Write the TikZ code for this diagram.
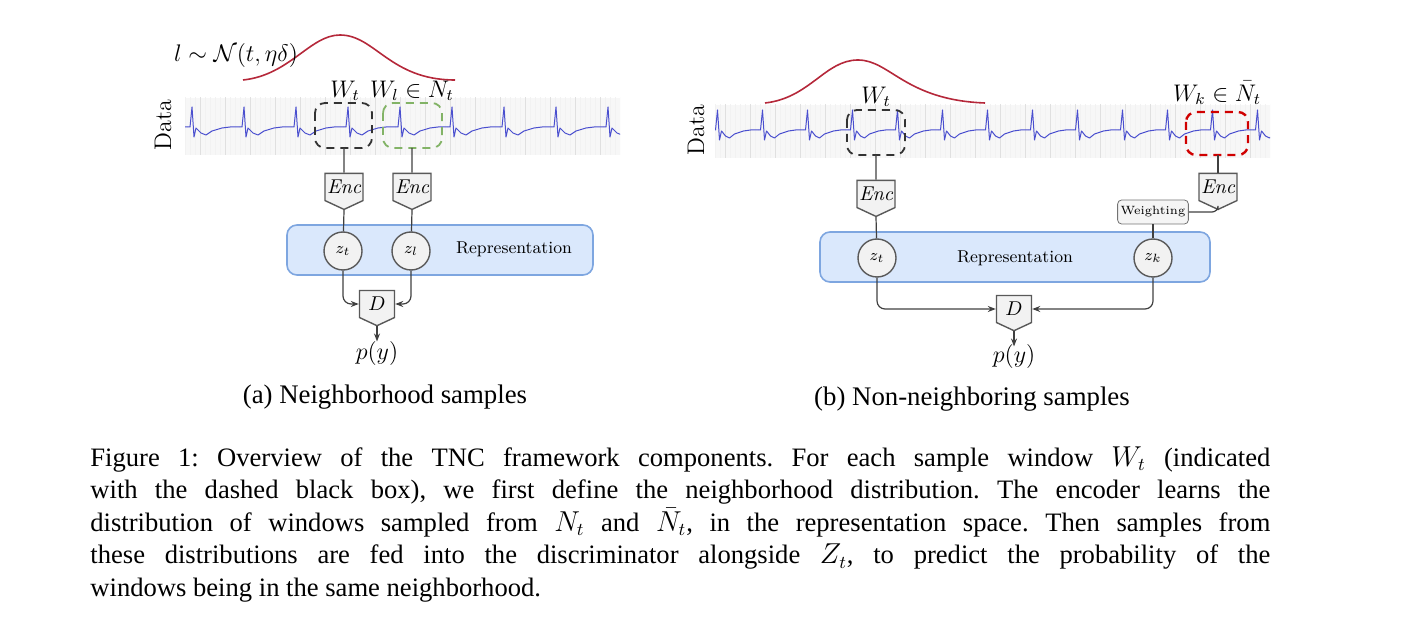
\documentclass[tikz,border=0pt]{standalone}
\usepackage{fontspec}
\usepackage{amsmath,amssymb}
\setmainfont{Liberation Serif}
\newfontfamily\lmf{Latin Modern Roman}
\usetikzlibrary{shapes.symbols,arrows.meta}
\definecolor{repfill}{HTML}{DAE8FC}
\definecolor{repdraw}{HTML}{7EA6E0}
\definecolor{ecgc}{HTML}{4A4FCF}
\definecolor{gauss}{HTML}{B5283A}
\definecolor{gbox}{HTML}{82B366}
\definecolor{rbox}{HTML}{D00000}
\begin{document}
\begin{tikzpicture}[x=0.5pt,y=-0.5pt,
  every node/.style={font=\lmf},
  enc/.style={shape=signal,signal to=south,signal pointer angle=130,draw=black!65,fill=black!5,line width=0.7pt,minimum width=17.5pt,minimum height=18pt,inner sep=1pt,font=\lmf\itshape},
  zn/.style={circle,draw=black!65,fill=black!5,line width=0.7pt,minimum size=19pt,inner sep=0pt,font=\lmf\footnotesize},
  rep/.style={draw=repdraw,fill=repfill,rounded corners=5pt,line width=0.8pt},
  reptext/.style={font=\lmf\fontsize{8.6}{10}\selectfont},
  wbox/.style={rounded corners=5pt,line width=0.9pt,dash pattern=on 4pt off 3pt},
  con/.style={draw=black!75,line width=0.6pt},
  arr/.style={con,-{Stealth[length=4pt]},rounded corners=4pt},
  ecg/.style={ecgc,line width=0.5pt,line join=round},
  gcurve/.style={gauss,line width=0.8pt}]
\useasboundingbox (0,0) rectangle (1417,641);
% ---------- panel (a) ----------
\begin{scope}
\clip (185,98) rectangle (620,155);
\fill[black!3] (185,98) rectangle (620,155);
\draw[black!5,line width=0.15pt,step=5] (180,95) grid (625,160);
\draw[black!12,line width=0.3pt,step=25] (175,75) grid (625,175);
\foreach \s in {135,187,239,291,343,395,447,499,551,603}
  \draw[ecg] (\s,127) -- ++(3,0) -- ++(2,-20) -- ++(2,30) -- ++(2,-9) -- ++(5,5) -- ++(5,2) -- ++(6,-4) -- ++(10,-3) -- ++(8,-1) -- ++(9,0);
\end{scope}
\node[rotate=90,font=\large\lmf] (da) at (163,125) {Data};
\draw[gcurve] (243,80) .. controls (290,75) and (310,35) .. (340,35) .. controls (375,35) and (390,80) .. (455,80);
\node[font=\large\lmf] (la) at (236,56) {$l\sim\mathcal{N}(t,\eta\delta)$};
\node[font=\large\lmf] (wt) at (345,91) {$W_t$};
\node[font=\large\lmf] (wl) at (412,91) {$W_l\in N_t$};
\draw[wbox,draw=black!80] (315,103) rectangle (372,148);
\draw[wbox,draw=gbox] (383,103) rectangle (442,148);
\coordinate (ba) at (344,148);
\coordinate (bb) at (412,148);
\node[enc] (e1) at (344,187) {Enc};
\node[enc] (e2) at (412,187) {Enc};
\draw[rep] (287,225) rectangle (593,275);
\node[zn] (zt) at (343,251) {$z_t$};
\node[zn] (zl) at (411,251) {$z_l$};
\node[reptext] (ra) at (514,249) {Representation};
\node[enc,font=\lmf\itshape,minimum height=16pt] (d1) at (377,304) {$D$};
\node[font=\large\lmf] (p1) at (377,353) {$p(y)$};
\draw[con] (ba) -- (e1); \draw[con] (bb) -- (e2);
\draw[con] (e1.south) -- (zt); \draw[con] (e2.south) -- (zl);
\draw[arr] (zt.south) |- (d1.west);
\draw[arr] (zl.south) |- (d1.east);
\draw[con,-{Stealth[length=4pt]}] (d1.south) -- ++(0,15);
\node[font=\fontsize{13.4}{16}\selectfont] (ca) at (385,397) {(a) Neighborhood samples};
% ---------- panel (b) ----------
\begin{scope}
\clip (715,105) rectangle (1270,158);
\fill[black!3] (715,105) rectangle (1270,158);
\draw[black!5,line width=0.15pt,step=5] (710,100) grid (1275,160);
\draw[black!12,line width=0.3pt,step=25] (700,100) grid (1275,175);
\foreach \s in {668,713,758,803,848,893,938,983,1028,1073,1118,1163,1208,1253}
  \draw[ecg] (\s,130) -- ++(2.5,0) -- ++(2,-20) -- ++(2,30) -- ++(2,-9) -- ++(4,5) -- ++(4,2) -- ++(5,-4) -- ++(9,-3) -- ++(7,-1) -- ++(7.5,0);
\end{scope}
\node[rotate=90,font=\large\lmf] (db) at (696,130) {Data};
\draw[gcurve] (765,103) .. controls (810,98) and (825,60) .. (858,60) .. controls (890,60) and (905,100) .. (985,103);
\node[font=\large\lmf] (wt2) at (876,97) {$W_t$};
\node[font=\large\lmf,inner sep=1pt] (wk) at (1217,93) {$W_k\in \bar{N}_t$};
\draw[wbox,draw=black!80] (847,110) rectangle (905,155);
\draw[wbox,draw=rbox,line width=1.2pt] (1186,112) rectangle (1248,155);
\coordinate (bc) at (876,155);
\coordinate (bd) at (1218,155);
\node[enc] (e3) at (876,194) {Enc};
\node[enc] (e4) at (1218,187) {Enc};
\node[draw=black!55,fill=black!4,rounded corners=2pt,font=\lmf\fontsize{6}{7}\selectfont,minimum height=12pt,inner sep=1.5pt] (w) at (1153,212) {Weighting};
\draw[rep] (820,232) rectangle (1210,282);
\node[zn] (zt2) at (877,258) {$z_t$};
\node[zn] (zk) at (1153,258) {$z_k$};
\node[reptext] (rb) at (1015,258) {Representation};
\node[enc,font=\lmf\itshape,minimum height=16pt] (d2) at (1014,309) {$D$};
\node[font=\large\lmf] (p2) at (1014,357) {$p(y)$};
\draw[con] (bc) -- (e3); \draw[con] (bd) -- (e4);
\draw[con] (e3.south) -- (zt2);
\draw[con,rounded corners=3pt] (e4.south) |- (w.east);
\draw[con] (w) -- (zk);
\draw[arr] (zt2.south) |- (d2.west);
\draw[arr] (zk.south) |- (d2.east);
\draw[con,-{Stealth[length=4pt]}] (d2.south) -- ++(0,15);
\node[font=\fontsize{13.4}{16}\selectfont] (cb) at (972,399) {(b) Non-neighboring samples};
% ---------- caption ----------
\node[anchor=north west,text width=590pt,align=justify,inner sep=0pt,font=\fontsize{13.3}{16.3}\selectfont\frenchspacing] (cap) at (90,446) {Figure 1: Overview of the TNC framework components. For each sample window $W_t$ (indicated\linebreak with the dashed black box), we first define the neighborhood distribution. The encoder learns the\linebreak distribution of windows sampled from $N_t$ and $\bar{N}_t$, in the representation space. Then samples from\linebreak these distributions are fed into the discriminator alongside $Z_t$, to predict the probability of the\linebreak windows being in the same neighborhood.};
\end{tikzpicture}
\end{document}
